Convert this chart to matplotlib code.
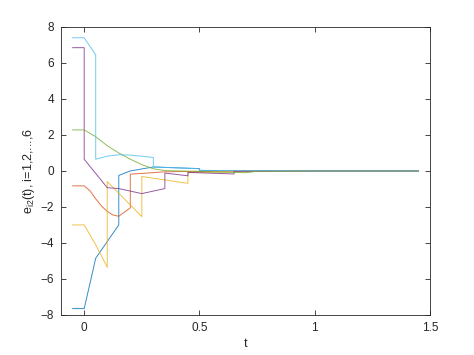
import matplotlib.pyplot as plt

plt.rcParams['font.family'] = ['Liberation Sans', 'DejaVu Sans']

# 各分量误差 e_i2(t) 的折点 (t, 值)
t1 = [-0.05, 0, 0.05, 0.15, 0.15, 0.2, 0.3, 0.5, 0.5, 0.65, 1.0, 1.45]
e1 = [-7.65, -7.65, -4.85, -3.0, -0.25, 0.0, 0.22, 0.13, 0.03, 0.0, 0.0, 0.0]

t2 = [-0.05, 0, 0.025, 0.05, 0.075, 0.1, 0.125, 0.15, 0.2, 0.2, 0.35, 0.45, 0.7, 1.45]
e2 = [-0.83, -0.83, -1.1, -1.55, -1.95, -2.25, -2.45, -2.52, -2.05, -0.18, -0.05, -0.03, 0.0, 0.0]

t3 = [-0.05, 0, 0.05, 0.1, 0.1, 0.25, 0.25, 0.45, 0.45, 0.65, 0.8, 1.0, 1.45]
e3 = [-3.0, -3.0, -4.1, -5.35, -0.59, -2.54, -0.31, -0.69, -0.1, -0.05, -0.02, 0.0, 0.0]

t4 = [-0.05, 0, 0, 0.1, 0.15, 0.25, 0.35, 0.35, 0.45, 0.45, 0.65, 0.65, 1.0, 1.45]
e4 = [6.85, 6.85, 0.65, -0.93, -0.98, -1.26, -0.98, -0.12, -0.27, -0.08, -0.17, -0.02, 0.0, 0.0]

t5 = [-0.05, 0, 0.05, 0.1, 0.15, 0.2, 0.25, 0.3, 0.35, 0.5, 0.7, 0.75, 1.0, 1.45]
e5 = [2.28, 2.28, 1.9, 1.4, 1.0, 0.65, 0.35, 0.12, 0.02, -0.03, -0.1, -0.02, 0.0, 0.0]

t6 = [-0.05, 0, 0.05, 0.05, 0.1, 0.15, 0.2, 0.3, 0.3, 0.5, 0.5, 1.0, 1.45]
e6 = [7.4, 7.4, 6.45, 0.65, 0.82, 0.9, 0.88, 0.75, 0.22, 0.12, 0.03, 0.0, 0.0]

colors = ['#0072BD', '#D95319', '#EDB120', '#7E2F8E', '#77AC30', '#4DBEEE']

fig = plt.figure(figsize=(4.74, 3.55), dpi=100)
ax = fig.add_axes([0.129, 0.113, 0.778, 0.811])

for t, e, c in zip([t1, t2, t3, t4, t5, t6], [e1, e2, e3, e4, e5, e6], colors):
    ax.plot(t, e, color=c, linewidth=0.7, alpha=0.8)

ax.set_xlim(-0.1, 1.5)
ax.set_ylim(-8, 8)
ax.set_xticks([0, 0.5, 1, 1.5])
ax.set_xticklabels(['0', '0.5', '1', '1.5'])
ax.set_yticks(range(-8, 9, 2))
ax.tick_params(direction='in', top=True, right=True, length=3.5, width=0.6,
               labelsize=8.5, colors='#262626', pad=5)
for s in ax.spines.values():
    s.set_linewidth(0.6)
    s.set_color('#262626')

ax.set_xlabel('t', fontsize=9, color='#262626', labelpad=3)
ax.set_ylabel(r'e$_{\mathregular{i2}}$(t), i=1,2,...,6', fontsize=9, color='#262626', labelpad=3)

plt.savefig('out.png', dpi=100)
